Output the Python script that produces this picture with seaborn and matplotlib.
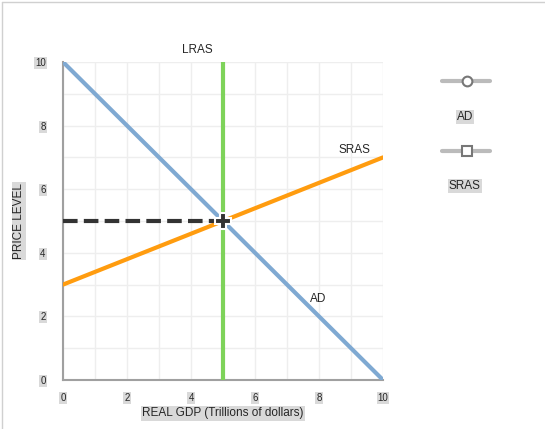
import matplotlib
matplotlib.use("Agg")
import matplotlib.pyplot as plt
import matplotlib.lines as mlines
import seaborn as sns

# data
ad_gdp = [0, 10]
ad_price = [10, 0]
sras_gdp = [0, 10]
sras_price = [3, 7]
lras_gdp = [5, 5]
lras_price = [0, 10]
eq_gdp = [0, 5]
eq_price = [5, 5]
ticks = [0, 2, 4, 6, 8, 10]

sns.set_style("white")
plt.rcParams["font.family"] = ["Liberation Sans", "DejaVu Sans"]

fig = plt.figure(figsize=(5.45, 4.29), dpi=100)
ax = fig.add_axes([0.1156, 0.1142, 0.5872, 0.7413])

lab_box = dict(boxstyle="square,pad=0.1", fc="#d9d9d9", ec="none")

kw = dict(ax=ax, sort=False, estimator=None)
sns.lineplot(x=lras_gdp, y=lras_price, color="#7ed35a", lw=3, zorder=3, **kw)
sns.lineplot(x=sras_gdp, y=sras_price, color="#ff9c0f", lw=3, zorder=3, **kw)
sns.lineplot(x=ad_gdp, y=ad_price, color="#7fa9d2", lw=3, zorder=4, **kw)
sns.lineplot(x=eq_gdp, y=eq_price, color="#333333", lw=3, zorder=5,
             linestyle=(0, (3.5, 1.5)), **kw)
ax.plot(eq_gdp[1], eq_price[1], marker="P", ms=11, color="#333333",
        mec="white", mew=1.5, zorder=6)

ax.set_xlim(0, 10)
ax.set_ylim(0, 10)
ax.set_xticks(ticks)
ax.set_yticks(ticks)
ax.set_xticks(range(11), minor=True)
ax.set_yticks(range(11), minor=True)
ax.grid(which="both", color="#eeeeee", lw=1)
ax.set_axisbelow(True)
for s in ["top", "right"]:
    ax.spines[s].set_visible(False)
for s in ["left", "bottom"]:
    ax.spines[s].set_color("#a0a0a0")
    ax.spines[s].set_linewidth(1.5)
ax.tick_params(which="major", direction="inout", length=7, width=1.2,
               color="#a0a0a0", labelsize=7)
ax.tick_params(axis="x", which="major", pad=6)
ax.tick_params(axis="y", which="major", pad=9)
ax.tick_params(which="minor", direction="in", length=3, width=1.2, color="#a0a0a0")
for t in ax.get_xticklabels() + ax.get_yticklabels():
    t.set_bbox(lab_box)

ax.set_xlabel("REAL GDP (Trillions of dollars)", fontsize=8.5, labelpad=3,
              bbox=lab_box)
ax.set_ylabel("PRICE LEVEL", fontsize=8.5, labelpad=7, bbox=lab_box)

ax.text(4.2, 10.38, "LRAS", ha="center", va="center", fontsize=8.5)
ax.text(9.12, 7.23, "SRAS", ha="center", va="center", fontsize=8.5)
ax.text(7.97, 2.55, "AD", ha="center", va="center", fontsize=8.5)

# slider-like legend on the right
for y, mk, name, ly in [(0.811, "o", "AD", 0.728), (0.648, "s", "SRAS", 0.566)]:
    fig.add_artist(mlines.Line2D([0.811, 0.899], [y, y], color="#bbbbbb", lw=3,
                                 transform=fig.transFigure))
    fig.add_artist(mlines.Line2D([0.857], [y], marker=mk, ms=7, mfc="white",
                                 mec="#777777", mew=1.5, transform=fig.transFigure))
    fig.text(0.853, ly, name, ha="center", va="center", fontsize=8.5, bbox=lab_box)

# frame border
fig.add_artist(mlines.Line2D([0.004, 0.004], [0, 0.996], color="#d0d0d0", lw=1,
                             transform=fig.transFigure))
fig.add_artist(mlines.Line2D([0.004, 1], [0.996, 0.996], color="#d0d0d0", lw=1,
                             transform=fig.transFigure))

fig.savefig("out.png", dpi=100)
